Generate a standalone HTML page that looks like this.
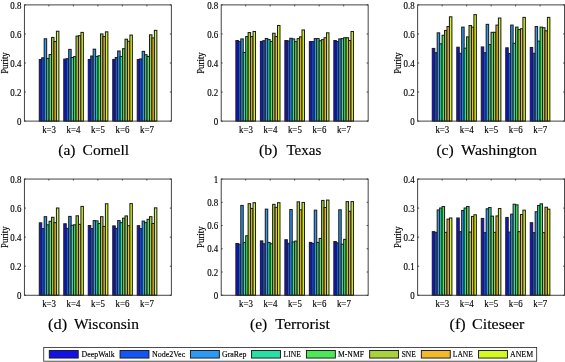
<!DOCTYPE html><html><head><meta charset="utf-8"><title>Purity</title><style>html,body{margin:0;padding:0;background:#fff}svg{display:block}text{font-family:"Liberation Serif","Times New Roman",serif;fill:#000;stroke:#000;stroke-width:0.15px}</style></head><body>
<svg width="565" height="362" viewBox="0 0 565 362">
<rect width="565" height="362" fill="#fff"/>
<g>
<g>
<rect x="39.3" y="59.51" width="2.45" height="61.59" fill="#1212e8" stroke="#1e1e1e" stroke-width="1.05"/>
<rect x="41.74" y="57.81" width="2.45" height="63.29" fill="#1455f5" stroke="#1e1e1e" stroke-width="1.05"/>
<rect x="44.19" y="38.79" width="2.45" height="82.31" fill="#2a9af5" stroke="#1e1e1e" stroke-width="1.05"/>
<rect x="46.64" y="58.42" width="2.45" height="62.68" fill="#28e0a5" stroke="#1e1e1e" stroke-width="1.05"/>
<rect x="49.09" y="54.58" width="2.45" height="66.52" fill="#4ce858" stroke="#1e1e1e" stroke-width="1.05"/>
<rect x="51.54" y="37.44" width="2.45" height="83.66" fill="#a8d23c" stroke="#1e1e1e" stroke-width="1.05"/>
<rect x="53.99" y="41.5" width="2.45" height="79.6" fill="#f4b928" stroke="#1e1e1e" stroke-width="1.05"/>
<rect x="56.44" y="31.26" width="2.45" height="89.84" fill="#d2fa1e" stroke="#1e1e1e" stroke-width="1.05"/>
<rect x="63.79" y="59.12" width="2.45" height="61.98" fill="#1212e8" stroke="#1e1e1e" stroke-width="1.05"/>
<rect x="66.24" y="58.69" width="2.45" height="62.41" fill="#1455f5" stroke="#1e1e1e" stroke-width="1.05"/>
<rect x="68.69" y="49.4" width="2.45" height="71.7" fill="#2a9af5" stroke="#1e1e1e" stroke-width="1.05"/>
<rect x="71.13" y="57.54" width="2.45" height="63.56" fill="#28e0a5" stroke="#1e1e1e" stroke-width="1.05"/>
<rect x="73.58" y="56.61" width="2.45" height="64.49" fill="#4ce858" stroke="#1e1e1e" stroke-width="1.05"/>
<rect x="76.03" y="36.13" width="2.45" height="84.97" fill="#a8d23c" stroke="#1e1e1e" stroke-width="1.05"/>
<rect x="78.48" y="35.69" width="2.45" height="85.41" fill="#f4b928" stroke="#1e1e1e" stroke-width="1.05"/>
<rect x="80.93" y="32.42" width="2.45" height="88.68" fill="#d2fa1e" stroke="#1e1e1e" stroke-width="1.05"/>
<rect x="88.28" y="59.51" width="2.45" height="61.59" fill="#1212e8" stroke="#1e1e1e" stroke-width="1.05"/>
<rect x="90.73" y="56.03" width="2.45" height="65.07" fill="#1455f5" stroke="#1e1e1e" stroke-width="1.05"/>
<rect x="93.18" y="49.2" width="2.45" height="71.9" fill="#2a9af5" stroke="#1e1e1e" stroke-width="1.05"/>
<rect x="95.63" y="56.46" width="2.45" height="64.64" fill="#28e0a5" stroke="#1e1e1e" stroke-width="1.05"/>
<rect x="98.08" y="55.74" width="2.45" height="65.36" fill="#4ce858" stroke="#1e1e1e" stroke-width="1.05"/>
<rect x="100.52" y="33.95" width="2.45" height="87.15" fill="#a8d23c" stroke="#1e1e1e" stroke-width="1.05"/>
<rect x="102.97" y="36.56" width="2.45" height="84.54" fill="#f4b928" stroke="#1e1e1e" stroke-width="1.05"/>
<rect x="105.42" y="31.84" width="2.45" height="89.26" fill="#d2fa1e" stroke="#1e1e1e" stroke-width="1.05"/>
<rect x="112.77" y="59.51" width="2.45" height="61.59" fill="#1212e8" stroke="#1e1e1e" stroke-width="1.05"/>
<rect x="115.22" y="57.54" width="2.45" height="63.56" fill="#1455f5" stroke="#1e1e1e" stroke-width="1.05"/>
<rect x="117.67" y="50.99" width="2.45" height="70.11" fill="#2a9af5" stroke="#1e1e1e" stroke-width="1.05"/>
<rect x="120.12" y="56.46" width="2.45" height="64.64" fill="#28e0a5" stroke="#1e1e1e" stroke-width="1.05"/>
<rect x="122.57" y="48.69" width="2.45" height="72.41" fill="#4ce858" stroke="#1e1e1e" stroke-width="1.05"/>
<rect x="125.02" y="39.22" width="2.45" height="81.88" fill="#a8d23c" stroke="#1e1e1e" stroke-width="1.05"/>
<rect x="127.46" y="41.26" width="2.45" height="79.84" fill="#f4b928" stroke="#1e1e1e" stroke-width="1.05"/>
<rect x="129.91" y="35.07" width="2.45" height="86.03" fill="#d2fa1e" stroke="#1e1e1e" stroke-width="1.05"/>
<rect x="137.26" y="59.51" width="2.45" height="61.59" fill="#1212e8" stroke="#1e1e1e" stroke-width="1.05"/>
<rect x="139.71" y="58.93" width="2.45" height="62.17" fill="#1455f5" stroke="#1e1e1e" stroke-width="1.05"/>
<rect x="142.16" y="51.38" width="2.45" height="69.72" fill="#2a9af5" stroke="#1e1e1e" stroke-width="1.05"/>
<rect x="144.61" y="54.72" width="2.45" height="66.38" fill="#28e0a5" stroke="#1e1e1e" stroke-width="1.05"/>
<rect x="147.06" y="56.46" width="2.45" height="64.64" fill="#4ce858" stroke="#1e1e1e" stroke-width="1.05"/>
<rect x="149.51" y="34.82" width="2.45" height="86.28" fill="#a8d23c" stroke="#1e1e1e" stroke-width="1.05"/>
<rect x="151.96" y="37.92" width="2.45" height="83.18" fill="#f4b928" stroke="#1e1e1e" stroke-width="1.05"/>
<rect x="154.41" y="30.38" width="2.45" height="90.72" fill="#d2fa1e" stroke="#1e1e1e" stroke-width="1.05"/>
</g>
<rect x="24.4" y="4.9" width="146.95" height="116.2" fill="none" stroke="#2e2e2e" stroke-width="0.9"/>
<path d="M48.89 121.1v-1.5M48.89 4.9v1.5M73.38 121.1v-1.5M73.38 4.9v1.5M97.88 121.1v-1.5M97.88 4.9v1.5M122.37 121.1v-1.5M122.37 4.9v1.5M146.86 121.1v-1.5M146.86 4.9v1.5M24.4 121.1h1.5M171.35 121.1h-1.5M24.4 92.05h1.5M171.35 92.05h-1.5M24.4 63h1.5M171.35 63h-1.5M24.4 33.95h1.5M171.35 33.95h-1.5M24.4 4.9h1.5M171.35 4.9h-1.5" stroke="#222" stroke-width="0.8" fill="none"/>
<text transform="translate(21.5 124.7) scale(0.91 1)" font-size="9.8" text-anchor="end">0</text>
<text transform="translate(21.5 95.65) scale(0.91 1)" font-size="9.8" text-anchor="end">0.2</text>
<text transform="translate(21.5 66.6) scale(0.91 1)" font-size="9.8" text-anchor="end">0.4</text>
<text transform="translate(21.5 37.55) scale(0.91 1)" font-size="9.8" text-anchor="end">0.6</text>
<text transform="translate(21.5 8.5) scale(0.91 1)" font-size="9.8" text-anchor="end">0.8</text>
<text transform="translate(49.09 132.8) scale(0.91 1)" font-size="9.8" text-anchor="middle">k=3</text>
<text transform="translate(73.58 132.8) scale(0.91 1)" font-size="9.8" text-anchor="middle">k=4</text>
<text transform="translate(98.08 132.8) scale(0.91 1)" font-size="9.8" text-anchor="middle">k=5</text>
<text transform="translate(122.57 132.8) scale(0.91 1)" font-size="9.8" text-anchor="middle">k=6</text>
<text transform="translate(147.06 132.8) scale(0.91 1)" font-size="9.8" text-anchor="middle">k=7</text>
<text transform="translate(7.5 63) rotate(-90) scale(0.91 1)" font-size="9.7" text-anchor="middle">Purity</text>
<text y="154.5" font-size="14.5"><tspan x="58.3" textLength="17.2" lengthAdjust="spacingAndGlyphs">(a)</tspan> <tspan x="82.6" textLength="46.5" lengthAdjust="spacingAndGlyphs">Cornell</tspan></text>
</g>
<g>
<g>
<rect x="235.89" y="40.53" width="2.45" height="80.57" fill="#1212e8" stroke="#1e1e1e" stroke-width="1.05"/>
<rect x="238.34" y="41.42" width="2.45" height="79.68" fill="#1455f5" stroke="#1e1e1e" stroke-width="1.05"/>
<rect x="240.79" y="38.93" width="2.45" height="82.17" fill="#2a9af5" stroke="#1e1e1e" stroke-width="1.05"/>
<rect x="243.24" y="52.45" width="2.45" height="68.65" fill="#28e0a5" stroke="#1e1e1e" stroke-width="1.05"/>
<rect x="245.69" y="36.56" width="2.45" height="84.54" fill="#4ce858" stroke="#1e1e1e" stroke-width="1.05"/>
<rect x="248.14" y="32.56" width="2.45" height="88.54" fill="#a8d23c" stroke="#1e1e1e" stroke-width="1.05"/>
<rect x="250.59" y="36.56" width="2.45" height="84.54" fill="#f4b928" stroke="#1e1e1e" stroke-width="1.05"/>
<rect x="253.04" y="31.48" width="2.45" height="89.62" fill="#d2fa1e" stroke="#1e1e1e" stroke-width="1.05"/>
<rect x="260.39" y="41.42" width="2.45" height="79.68" fill="#1212e8" stroke="#1e1e1e" stroke-width="1.05"/>
<rect x="262.84" y="40.7" width="2.45" height="80.4" fill="#1455f5" stroke="#1e1e1e" stroke-width="1.05"/>
<rect x="265.28" y="38.48" width="2.45" height="82.62" fill="#2a9af5" stroke="#1e1e1e" stroke-width="1.05"/>
<rect x="267.73" y="39.61" width="2.45" height="81.49" fill="#28e0a5" stroke="#1e1e1e" stroke-width="1.05"/>
<rect x="270.18" y="41.42" width="2.45" height="79.68" fill="#4ce858" stroke="#1e1e1e" stroke-width="1.05"/>
<rect x="272.63" y="33.27" width="2.45" height="87.83" fill="#a8d23c" stroke="#1e1e1e" stroke-width="1.05"/>
<rect x="275.08" y="36.56" width="2.45" height="84.54" fill="#f4b928" stroke="#1e1e1e" stroke-width="1.05"/>
<rect x="277.53" y="25.48" width="2.45" height="95.62" fill="#d2fa1e" stroke="#1e1e1e" stroke-width="1.05"/>
<rect x="284.88" y="40.53" width="2.45" height="80.57" fill="#1212e8" stroke="#1e1e1e" stroke-width="1.05"/>
<rect x="287.33" y="40.92" width="2.45" height="80.18" fill="#1455f5" stroke="#1e1e1e" stroke-width="1.05"/>
<rect x="289.78" y="38.31" width="2.45" height="82.79" fill="#2a9af5" stroke="#1e1e1e" stroke-width="1.05"/>
<rect x="292.23" y="38.93" width="2.45" height="82.17" fill="#28e0a5" stroke="#1e1e1e" stroke-width="1.05"/>
<rect x="294.67" y="41.59" width="2.45" height="79.51" fill="#4ce858" stroke="#1e1e1e" stroke-width="1.05"/>
<rect x="297.12" y="38.6" width="2.45" height="82.5" fill="#a8d23c" stroke="#1e1e1e" stroke-width="1.05"/>
<rect x="299.57" y="36.86" width="2.45" height="84.24" fill="#f4b928" stroke="#1e1e1e" stroke-width="1.05"/>
<rect x="302.02" y="29.94" width="2.45" height="91.16" fill="#d2fa1e" stroke="#1e1e1e" stroke-width="1.05"/>
<rect x="309.37" y="41.59" width="2.45" height="79.51" fill="#1212e8" stroke="#1e1e1e" stroke-width="1.05"/>
<rect x="311.82" y="41.59" width="2.45" height="79.51" fill="#1455f5" stroke="#1e1e1e" stroke-width="1.05"/>
<rect x="314.27" y="38.6" width="2.45" height="82.5" fill="#2a9af5" stroke="#1e1e1e" stroke-width="1.05"/>
<rect x="316.72" y="38.6" width="2.45" height="82.5" fill="#28e0a5" stroke="#1e1e1e" stroke-width="1.05"/>
<rect x="319.17" y="40.7" width="2.45" height="80.4" fill="#4ce858" stroke="#1e1e1e" stroke-width="1.05"/>
<rect x="321.62" y="39.61" width="2.45" height="81.49" fill="#a8d23c" stroke="#1e1e1e" stroke-width="1.05"/>
<rect x="324.06" y="37.73" width="2.45" height="83.37" fill="#f4b928" stroke="#1e1e1e" stroke-width="1.05"/>
<rect x="326.51" y="32.79" width="2.45" height="88.31" fill="#d2fa1e" stroke="#1e1e1e" stroke-width="1.05"/>
<rect x="333.86" y="40.53" width="2.45" height="80.57" fill="#1212e8" stroke="#1e1e1e" stroke-width="1.05"/>
<rect x="336.31" y="41.59" width="2.45" height="79.51" fill="#1455f5" stroke="#1e1e1e" stroke-width="1.05"/>
<rect x="338.76" y="38.93" width="2.45" height="82.17" fill="#2a9af5" stroke="#1e1e1e" stroke-width="1.05"/>
<rect x="341.21" y="38.6" width="2.45" height="82.5" fill="#28e0a5" stroke="#1e1e1e" stroke-width="1.05"/>
<rect x="343.66" y="37.73" width="2.45" height="83.37" fill="#4ce858" stroke="#1e1e1e" stroke-width="1.05"/>
<rect x="346.11" y="37.73" width="2.45" height="83.37" fill="#a8d23c" stroke="#1e1e1e" stroke-width="1.05"/>
<rect x="348.56" y="40.53" width="2.45" height="80.57" fill="#f4b928" stroke="#1e1e1e" stroke-width="1.05"/>
<rect x="351.01" y="31.48" width="2.45" height="89.62" fill="#d2fa1e" stroke="#1e1e1e" stroke-width="1.05"/>
</g>
<rect x="221.2" y="4.9" width="146.95" height="116.2" fill="none" stroke="#2e2e2e" stroke-width="0.9"/>
<path d="M245.69 121.1v-1.5M245.69 4.9v1.5M270.18 121.1v-1.5M270.18 4.9v1.5M294.67 121.1v-1.5M294.67 4.9v1.5M319.17 121.1v-1.5M319.17 4.9v1.5M343.66 121.1v-1.5M343.66 4.9v1.5M221.2 121.1h1.5M368.15 121.1h-1.5M221.2 92.05h1.5M368.15 92.05h-1.5M221.2 63h1.5M368.15 63h-1.5M221.2 33.95h1.5M368.15 33.95h-1.5M221.2 4.9h1.5M368.15 4.9h-1.5" stroke="#222" stroke-width="0.8" fill="none"/>
<text transform="translate(218.3 124.7) scale(0.91 1)" font-size="9.8" text-anchor="end">0</text>
<text transform="translate(218.3 95.65) scale(0.91 1)" font-size="9.8" text-anchor="end">0.2</text>
<text transform="translate(218.3 66.6) scale(0.91 1)" font-size="9.8" text-anchor="end">0.4</text>
<text transform="translate(218.3 37.55) scale(0.91 1)" font-size="9.8" text-anchor="end">0.6</text>
<text transform="translate(218.3 8.5) scale(0.91 1)" font-size="9.8" text-anchor="end">0.8</text>
<text transform="translate(245.89 132.8) scale(0.91 1)" font-size="9.8" text-anchor="middle">k=3</text>
<text transform="translate(270.38 132.8) scale(0.91 1)" font-size="9.8" text-anchor="middle">k=4</text>
<text transform="translate(294.87 132.8) scale(0.91 1)" font-size="9.8" text-anchor="middle">k=5</text>
<text transform="translate(319.37 132.8) scale(0.91 1)" font-size="9.8" text-anchor="middle">k=6</text>
<text transform="translate(343.86 132.8) scale(0.91 1)" font-size="9.8" text-anchor="middle">k=7</text>
<text transform="translate(204.3 63) rotate(-90) scale(0.91 1)" font-size="9.7" text-anchor="middle">Purity</text>
<text y="154.5" font-size="14.5"><tspan x="259.1" textLength="18.4" lengthAdjust="spacingAndGlyphs">(b)</tspan> <tspan x="286.4" textLength="35" lengthAdjust="spacingAndGlyphs">Texas</tspan></text>
</g>
<g>
<g>
<rect x="432.29" y="48.43" width="2.45" height="72.67" fill="#1212e8" stroke="#1e1e1e" stroke-width="1.05"/>
<rect x="434.74" y="52.69" width="2.45" height="68.41" fill="#1455f5" stroke="#1e1e1e" stroke-width="1.05"/>
<rect x="437.19" y="32.85" width="2.45" height="88.25" fill="#2a9af5" stroke="#1e1e1e" stroke-width="1.05"/>
<rect x="439.64" y="43.83" width="2.45" height="77.27" fill="#28e0a5" stroke="#1e1e1e" stroke-width="1.05"/>
<rect x="442.09" y="35.29" width="2.45" height="85.81" fill="#4ce858" stroke="#1e1e1e" stroke-width="1.05"/>
<rect x="444.54" y="30.46" width="2.45" height="90.64" fill="#a8d23c" stroke="#1e1e1e" stroke-width="1.05"/>
<rect x="446.99" y="26.54" width="2.45" height="94.56" fill="#f4b928" stroke="#1e1e1e" stroke-width="1.05"/>
<rect x="449.44" y="16.81" width="2.45" height="104.29" fill="#d2fa1e" stroke="#1e1e1e" stroke-width="1.05"/>
<rect x="456.79" y="47.21" width="2.45" height="73.89" fill="#1212e8" stroke="#1e1e1e" stroke-width="1.05"/>
<rect x="459.24" y="53.28" width="2.45" height="67.82" fill="#1455f5" stroke="#1e1e1e" stroke-width="1.05"/>
<rect x="461.68" y="27.12" width="2.45" height="93.98" fill="#2a9af5" stroke="#1e1e1e" stroke-width="1.05"/>
<rect x="464.13" y="48.18" width="2.45" height="72.92" fill="#28e0a5" stroke="#1e1e1e" stroke-width="1.05"/>
<rect x="466.58" y="36.86" width="2.45" height="84.24" fill="#4ce858" stroke="#1e1e1e" stroke-width="1.05"/>
<rect x="469.03" y="25.53" width="2.45" height="95.57" fill="#a8d23c" stroke="#1e1e1e" stroke-width="1.05"/>
<rect x="471.48" y="27.12" width="2.45" height="93.98" fill="#f4b928" stroke="#1e1e1e" stroke-width="1.05"/>
<rect x="473.93" y="14.63" width="2.45" height="106.47" fill="#d2fa1e" stroke="#1e1e1e" stroke-width="1.05"/>
<rect x="481.28" y="46.96" width="2.45" height="74.14" fill="#1212e8" stroke="#1e1e1e" stroke-width="1.05"/>
<rect x="483.73" y="52.69" width="2.45" height="68.41" fill="#1455f5" stroke="#1e1e1e" stroke-width="1.05"/>
<rect x="486.18" y="24.36" width="2.45" height="96.74" fill="#2a9af5" stroke="#1e1e1e" stroke-width="1.05"/>
<rect x="488.63" y="44.55" width="2.45" height="76.55" fill="#28e0a5" stroke="#1e1e1e" stroke-width="1.05"/>
<rect x="491.07" y="32.35" width="2.45" height="88.75" fill="#4ce858" stroke="#1e1e1e" stroke-width="1.05"/>
<rect x="493.52" y="32.35" width="2.45" height="88.75" fill="#a8d23c" stroke="#1e1e1e" stroke-width="1.05"/>
<rect x="495.97" y="25.09" width="2.45" height="96.01" fill="#f4b928" stroke="#1e1e1e" stroke-width="1.05"/>
<rect x="498.42" y="18.03" width="2.45" height="103.07" fill="#d2fa1e" stroke="#1e1e1e" stroke-width="1.05"/>
<rect x="505.77" y="47.82" width="2.45" height="73.28" fill="#1212e8" stroke="#1e1e1e" stroke-width="1.05"/>
<rect x="508.22" y="53.56" width="2.45" height="67.54" fill="#1455f5" stroke="#1e1e1e" stroke-width="1.05"/>
<rect x="510.67" y="25.09" width="2.45" height="96.01" fill="#2a9af5" stroke="#1e1e1e" stroke-width="1.05"/>
<rect x="513.12" y="43.32" width="2.45" height="77.78" fill="#28e0a5" stroke="#1e1e1e" stroke-width="1.05"/>
<rect x="515.57" y="27.12" width="2.45" height="93.98" fill="#4ce858" stroke="#1e1e1e" stroke-width="1.05"/>
<rect x="518.02" y="29.59" width="2.45" height="91.51" fill="#a8d23c" stroke="#1e1e1e" stroke-width="1.05"/>
<rect x="520.47" y="28.72" width="2.45" height="92.38" fill="#f4b928" stroke="#1e1e1e" stroke-width="1.05"/>
<rect x="522.91" y="17.39" width="2.45" height="103.71" fill="#d2fa1e" stroke="#1e1e1e" stroke-width="1.05"/>
<rect x="530.26" y="47.46" width="2.45" height="73.64" fill="#1212e8" stroke="#1e1e1e" stroke-width="1.05"/>
<rect x="532.71" y="53.28" width="2.45" height="67.82" fill="#1455f5" stroke="#1e1e1e" stroke-width="1.05"/>
<rect x="535.16" y="26.54" width="2.45" height="94.56" fill="#2a9af5" stroke="#1e1e1e" stroke-width="1.05"/>
<rect x="537.61" y="41.13" width="2.45" height="79.97" fill="#28e0a5" stroke="#1e1e1e" stroke-width="1.05"/>
<rect x="540.06" y="27.12" width="2.45" height="93.98" fill="#4ce858" stroke="#1e1e1e" stroke-width="1.05"/>
<rect x="542.51" y="27.7" width="2.45" height="93.4" fill="#a8d23c" stroke="#1e1e1e" stroke-width="1.05"/>
<rect x="544.96" y="30.8" width="2.45" height="90.3" fill="#f4b928" stroke="#1e1e1e" stroke-width="1.05"/>
<rect x="547.41" y="17.39" width="2.45" height="103.71" fill="#d2fa1e" stroke="#1e1e1e" stroke-width="1.05"/>
</g>
<rect x="417.65" y="4.9" width="146.95" height="116.2" fill="none" stroke="#2e2e2e" stroke-width="0.9"/>
<path d="M442.14 121.1v-1.5M442.14 4.9v1.5M466.63 121.1v-1.5M466.63 4.9v1.5M491.12 121.1v-1.5M491.12 4.9v1.5M515.62 121.1v-1.5M515.62 4.9v1.5M540.11 121.1v-1.5M540.11 4.9v1.5M417.65 121.1h1.5M564.6 121.1h-1.5M417.65 92.05h1.5M564.6 92.05h-1.5M417.65 63h1.5M564.6 63h-1.5M417.65 33.95h1.5M564.6 33.95h-1.5M417.65 4.9h1.5M564.6 4.9h-1.5" stroke="#222" stroke-width="0.8" fill="none"/>
<text transform="translate(414.75 124.7) scale(0.91 1)" font-size="9.8" text-anchor="end">0</text>
<text transform="translate(414.75 95.65) scale(0.91 1)" font-size="9.8" text-anchor="end">0.2</text>
<text transform="translate(414.75 66.6) scale(0.91 1)" font-size="9.8" text-anchor="end">0.4</text>
<text transform="translate(414.75 37.55) scale(0.91 1)" font-size="9.8" text-anchor="end">0.6</text>
<text transform="translate(414.75 8.5) scale(0.91 1)" font-size="9.8" text-anchor="end">0.8</text>
<text transform="translate(442.34 132.8) scale(0.91 1)" font-size="9.8" text-anchor="middle">k=3</text>
<text transform="translate(466.83 132.8) scale(0.91 1)" font-size="9.8" text-anchor="middle">k=4</text>
<text transform="translate(491.32 132.8) scale(0.91 1)" font-size="9.8" text-anchor="middle">k=5</text>
<text transform="translate(515.82 132.8) scale(0.91 1)" font-size="9.8" text-anchor="middle">k=6</text>
<text transform="translate(540.31 132.8) scale(0.91 1)" font-size="9.8" text-anchor="middle">k=7</text>
<text transform="translate(400.75 63) rotate(-90) scale(0.91 1)" font-size="9.7" text-anchor="middle">Purity</text>
<text y="154.5" font-size="14.5"><tspan x="436.4" textLength="17.3" lengthAdjust="spacingAndGlyphs">(c)</tspan> <tspan x="461.1" textLength="75.9" lengthAdjust="spacingAndGlyphs">Washington</tspan></text>
</g>
<g>
<g>
<rect x="39.3" y="222.87" width="2.45" height="72.38" fill="#1212e8" stroke="#1e1e1e" stroke-width="1.05"/>
<rect x="41.74" y="228.58" width="2.45" height="66.67" fill="#1455f5" stroke="#1e1e1e" stroke-width="1.05"/>
<rect x="44.19" y="216.67" width="2.45" height="78.58" fill="#2a9af5" stroke="#1e1e1e" stroke-width="1.05"/>
<rect x="46.64" y="224.83" width="2.45" height="70.42" fill="#28e0a5" stroke="#1e1e1e" stroke-width="1.05"/>
<rect x="49.09" y="221.29" width="2.45" height="73.96" fill="#4ce858" stroke="#1e1e1e" stroke-width="1.05"/>
<rect x="51.54" y="217.31" width="2.45" height="77.94" fill="#a8d23c" stroke="#1e1e1e" stroke-width="1.05"/>
<rect x="53.99" y="222.62" width="2.45" height="72.62" fill="#f4b928" stroke="#1e1e1e" stroke-width="1.05"/>
<rect x="56.44" y="208.01" width="2.45" height="87.24" fill="#d2fa1e" stroke="#1e1e1e" stroke-width="1.05"/>
<rect x="63.79" y="223.79" width="2.45" height="71.46" fill="#1212e8" stroke="#1e1e1e" stroke-width="1.05"/>
<rect x="66.24" y="228.38" width="2.45" height="66.87" fill="#1455f5" stroke="#1e1e1e" stroke-width="1.05"/>
<rect x="68.69" y="216.42" width="2.45" height="78.83" fill="#2a9af5" stroke="#1e1e1e" stroke-width="1.05"/>
<rect x="71.13" y="225.27" width="2.45" height="69.98" fill="#28e0a5" stroke="#1e1e1e" stroke-width="1.05"/>
<rect x="73.58" y="224.83" width="2.45" height="70.42" fill="#4ce858" stroke="#1e1e1e" stroke-width="1.05"/>
<rect x="76.03" y="215.8" width="2.45" height="79.45" fill="#a8d23c" stroke="#1e1e1e" stroke-width="1.05"/>
<rect x="78.48" y="224.37" width="2.45" height="70.88" fill="#f4b928" stroke="#1e1e1e" stroke-width="1.05"/>
<rect x="80.93" y="206.42" width="2.45" height="88.83" fill="#d2fa1e" stroke="#1e1e1e" stroke-width="1.05"/>
<rect x="88.28" y="225.53" width="2.45" height="69.72" fill="#1212e8" stroke="#1e1e1e" stroke-width="1.05"/>
<rect x="90.73" y="228.58" width="2.45" height="66.67" fill="#1455f5" stroke="#1e1e1e" stroke-width="1.05"/>
<rect x="93.18" y="220.59" width="2.45" height="74.66" fill="#2a9af5" stroke="#1e1e1e" stroke-width="1.05"/>
<rect x="95.63" y="220.88" width="2.45" height="74.37" fill="#28e0a5" stroke="#1e1e1e" stroke-width="1.05"/>
<rect x="98.08" y="223.5" width="2.45" height="71.75" fill="#4ce858" stroke="#1e1e1e" stroke-width="1.05"/>
<rect x="100.52" y="216.67" width="2.45" height="78.58" fill="#a8d23c" stroke="#1e1e1e" stroke-width="1.05"/>
<rect x="102.97" y="226.42" width="2.45" height="68.83" fill="#f4b928" stroke="#1e1e1e" stroke-width="1.05"/>
<rect x="105.42" y="203.74" width="2.45" height="91.51" fill="#d2fa1e" stroke="#1e1e1e" stroke-width="1.05"/>
<rect x="112.77" y="225.89" width="2.45" height="69.36" fill="#1212e8" stroke="#1e1e1e" stroke-width="1.05"/>
<rect x="115.22" y="228.38" width="2.45" height="66.87" fill="#1455f5" stroke="#1e1e1e" stroke-width="1.05"/>
<rect x="117.67" y="220.59" width="2.45" height="74.66" fill="#2a9af5" stroke="#1e1e1e" stroke-width="1.05"/>
<rect x="120.12" y="222.62" width="2.45" height="72.62" fill="#28e0a5" stroke="#1e1e1e" stroke-width="1.05"/>
<rect x="122.57" y="218.18" width="2.45" height="77.07" fill="#4ce858" stroke="#1e1e1e" stroke-width="1.05"/>
<rect x="125.02" y="215.94" width="2.45" height="79.31" fill="#a8d23c" stroke="#1e1e1e" stroke-width="1.05"/>
<rect x="127.46" y="225.72" width="2.45" height="69.53" fill="#f4b928" stroke="#1e1e1e" stroke-width="1.05"/>
<rect x="129.91" y="203.6" width="2.45" height="91.65" fill="#d2fa1e" stroke="#1e1e1e" stroke-width="1.05"/>
<rect x="137.26" y="225.72" width="2.45" height="69.53" fill="#1212e8" stroke="#1e1e1e" stroke-width="1.05"/>
<rect x="139.71" y="228.58" width="2.45" height="66.67" fill="#1455f5" stroke="#1e1e1e" stroke-width="1.05"/>
<rect x="142.16" y="221.11" width="2.45" height="74.14" fill="#2a9af5" stroke="#1e1e1e" stroke-width="1.05"/>
<rect x="144.61" y="222.62" width="2.45" height="72.62" fill="#28e0a5" stroke="#1e1e1e" stroke-width="1.05"/>
<rect x="147.06" y="219.34" width="2.45" height="75.91" fill="#4ce858" stroke="#1e1e1e" stroke-width="1.05"/>
<rect x="149.51" y="216.67" width="2.45" height="78.58" fill="#a8d23c" stroke="#1e1e1e" stroke-width="1.05"/>
<rect x="151.96" y="223.5" width="2.45" height="71.75" fill="#f4b928" stroke="#1e1e1e" stroke-width="1.05"/>
<rect x="154.41" y="207.84" width="2.45" height="87.41" fill="#d2fa1e" stroke="#1e1e1e" stroke-width="1.05"/>
</g>
<rect x="24.4" y="179.05" width="146.95" height="116.2" fill="none" stroke="#2e2e2e" stroke-width="0.9"/>
<path d="M48.89 295.25v-1.5M48.89 179.05v1.5M73.38 295.25v-1.5M73.38 179.05v1.5M97.88 295.25v-1.5M97.88 179.05v1.5M122.37 295.25v-1.5M122.37 179.05v1.5M146.86 295.25v-1.5M146.86 179.05v1.5M24.4 295.25h1.5M171.35 295.25h-1.5M24.4 266.2h1.5M171.35 266.2h-1.5M24.4 237.15h1.5M171.35 237.15h-1.5M24.4 208.1h1.5M171.35 208.1h-1.5M24.4 179.05h1.5M171.35 179.05h-1.5" stroke="#222" stroke-width="0.8" fill="none"/>
<text transform="translate(21.5 298.85) scale(0.91 1)" font-size="9.8" text-anchor="end">0</text>
<text transform="translate(21.5 269.8) scale(0.91 1)" font-size="9.8" text-anchor="end">0.2</text>
<text transform="translate(21.5 240.75) scale(0.91 1)" font-size="9.8" text-anchor="end">0.4</text>
<text transform="translate(21.5 211.7) scale(0.91 1)" font-size="9.8" text-anchor="end">0.6</text>
<text transform="translate(21.5 182.65) scale(0.91 1)" font-size="9.8" text-anchor="end">0.8</text>
<text transform="translate(49.09 306.95) scale(0.91 1)" font-size="9.8" text-anchor="middle">k=3</text>
<text transform="translate(73.58 306.95) scale(0.91 1)" font-size="9.8" text-anchor="middle">k=4</text>
<text transform="translate(98.08 306.95) scale(0.91 1)" font-size="9.8" text-anchor="middle">k=5</text>
<text transform="translate(122.57 306.95) scale(0.91 1)" font-size="9.8" text-anchor="middle">k=6</text>
<text transform="translate(147.06 306.95) scale(0.91 1)" font-size="9.8" text-anchor="middle">k=7</text>
<text transform="translate(7.5 237.15) rotate(-90) scale(0.91 1)" font-size="9.7" text-anchor="middle">Purity</text>
<text y="328.65" font-size="14.5"><tspan x="48.05" textLength="19.1" lengthAdjust="spacingAndGlyphs">(d)</tspan> <tspan x="74.05" textLength="64.85" lengthAdjust="spacingAndGlyphs">Wisconsin</tspan></text>
</g>
<g>
<g>
<rect x="235.89" y="243.48" width="2.45" height="51.77" fill="#1212e8" stroke="#1e1e1e" stroke-width="1.05"/>
<rect x="238.34" y="244.18" width="2.45" height="51.07" fill="#1455f5" stroke="#1e1e1e" stroke-width="1.05"/>
<rect x="240.79" y="205.43" width="2.45" height="89.82" fill="#2a9af5" stroke="#1e1e1e" stroke-width="1.05"/>
<rect x="243.24" y="242.43" width="2.45" height="52.82" fill="#28e0a5" stroke="#1e1e1e" stroke-width="1.05"/>
<rect x="245.69" y="235.76" width="2.45" height="59.49" fill="#4ce858" stroke="#1e1e1e" stroke-width="1.05"/>
<rect x="248.14" y="203.68" width="2.45" height="91.57" fill="#a8d23c" stroke="#1e1e1e" stroke-width="1.05"/>
<rect x="250.59" y="208.45" width="2.45" height="86.8" fill="#f4b928" stroke="#1e1e1e" stroke-width="1.05"/>
<rect x="253.04" y="202.69" width="2.45" height="92.56" fill="#d2fa1e" stroke="#1e1e1e" stroke-width="1.05"/>
<rect x="260.39" y="240.91" width="2.45" height="54.34" fill="#1212e8" stroke="#1e1e1e" stroke-width="1.05"/>
<rect x="262.84" y="243.77" width="2.45" height="51.48" fill="#1455f5" stroke="#1e1e1e" stroke-width="1.05"/>
<rect x="265.28" y="209.15" width="2.45" height="86.1" fill="#2a9af5" stroke="#1e1e1e" stroke-width="1.05"/>
<rect x="267.73" y="242.43" width="2.45" height="52.82" fill="#28e0a5" stroke="#1e1e1e" stroke-width="1.05"/>
<rect x="270.18" y="243.77" width="2.45" height="51.48" fill="#4ce858" stroke="#1e1e1e" stroke-width="1.05"/>
<rect x="272.63" y="204.38" width="2.45" height="90.87" fill="#a8d23c" stroke="#1e1e1e" stroke-width="1.05"/>
<rect x="275.08" y="207.4" width="2.45" height="87.85" fill="#f4b928" stroke="#1e1e1e" stroke-width="1.05"/>
<rect x="277.53" y="202.69" width="2.45" height="92.56" fill="#d2fa1e" stroke="#1e1e1e" stroke-width="1.05"/>
<rect x="284.88" y="239.75" width="2.45" height="55.5" fill="#1212e8" stroke="#1e1e1e" stroke-width="1.05"/>
<rect x="287.33" y="243.31" width="2.45" height="51.94" fill="#1455f5" stroke="#1e1e1e" stroke-width="1.05"/>
<rect x="289.78" y="209.54" width="2.45" height="85.71" fill="#2a9af5" stroke="#1e1e1e" stroke-width="1.05"/>
<rect x="292.23" y="241.97" width="2.45" height="53.28" fill="#28e0a5" stroke="#1e1e1e" stroke-width="1.05"/>
<rect x="294.67" y="241.1" width="2.45" height="54.15" fill="#4ce858" stroke="#1e1e1e" stroke-width="1.05"/>
<rect x="297.12" y="201.83" width="2.45" height="93.42" fill="#a8d23c" stroke="#1e1e1e" stroke-width="1.05"/>
<rect x="299.57" y="209.8" width="2.45" height="85.45" fill="#f4b928" stroke="#1e1e1e" stroke-width="1.05"/>
<rect x="302.02" y="202.46" width="2.45" height="92.79" fill="#d2fa1e" stroke="#1e1e1e" stroke-width="1.05"/>
<rect x="309.37" y="242.43" width="2.45" height="52.82" fill="#1212e8" stroke="#1e1e1e" stroke-width="1.05"/>
<rect x="311.82" y="243.48" width="2.45" height="51.77" fill="#1455f5" stroke="#1e1e1e" stroke-width="1.05"/>
<rect x="314.27" y="210.19" width="2.45" height="85.06" fill="#2a9af5" stroke="#1e1e1e" stroke-width="1.05"/>
<rect x="316.72" y="242.43" width="2.45" height="52.82" fill="#28e0a5" stroke="#1e1e1e" stroke-width="1.05"/>
<rect x="319.17" y="238.43" width="2.45" height="56.82" fill="#4ce858" stroke="#1e1e1e" stroke-width="1.05"/>
<rect x="321.62" y="200.43" width="2.45" height="94.82" fill="#a8d23c" stroke="#1e1e1e" stroke-width="1.05"/>
<rect x="324.06" y="207.52" width="2.45" height="87.73" fill="#f4b928" stroke="#1e1e1e" stroke-width="1.05"/>
<rect x="326.51" y="200.08" width="2.45" height="95.17" fill="#d2fa1e" stroke="#1e1e1e" stroke-width="1.05"/>
<rect x="333.86" y="241.57" width="2.45" height="53.68" fill="#1212e8" stroke="#1e1e1e" stroke-width="1.05"/>
<rect x="336.31" y="242.84" width="2.45" height="52.41" fill="#1455f5" stroke="#1e1e1e" stroke-width="1.05"/>
<rect x="338.76" y="209.8" width="2.45" height="85.45" fill="#2a9af5" stroke="#1e1e1e" stroke-width="1.05"/>
<rect x="341.21" y="244.18" width="2.45" height="51.07" fill="#28e0a5" stroke="#1e1e1e" stroke-width="1.05"/>
<rect x="343.66" y="239.36" width="2.45" height="55.89" fill="#4ce858" stroke="#1e1e1e" stroke-width="1.05"/>
<rect x="346.11" y="201.59" width="2.45" height="93.66" fill="#a8d23c" stroke="#1e1e1e" stroke-width="1.05"/>
<rect x="348.56" y="211.31" width="2.45" height="83.94" fill="#f4b928" stroke="#1e1e1e" stroke-width="1.05"/>
<rect x="351.01" y="201.59" width="2.45" height="93.66" fill="#d2fa1e" stroke="#1e1e1e" stroke-width="1.05"/>
</g>
<rect x="221.2" y="179.05" width="146.95" height="116.2" fill="none" stroke="#2e2e2e" stroke-width="0.9"/>
<path d="M245.69 295.25v-1.5M245.69 179.05v1.5M270.18 295.25v-1.5M270.18 179.05v1.5M294.67 295.25v-1.5M294.67 179.05v1.5M319.17 295.25v-1.5M319.17 179.05v1.5M343.66 295.25v-1.5M343.66 179.05v1.5M221.2 295.25h1.5M368.15 295.25h-1.5M221.2 272.01h1.5M368.15 272.01h-1.5M221.2 248.77h1.5M368.15 248.77h-1.5M221.2 225.53h1.5M368.15 225.53h-1.5M221.2 202.29h1.5M368.15 202.29h-1.5M221.2 179.05h1.5M368.15 179.05h-1.5" stroke="#222" stroke-width="0.8" fill="none"/>
<text transform="translate(218.3 298.85) scale(0.91 1)" font-size="9.8" text-anchor="end">0</text>
<text transform="translate(218.3 275.61) scale(0.91 1)" font-size="9.8" text-anchor="end">0.2</text>
<text transform="translate(218.3 252.37) scale(0.91 1)" font-size="9.8" text-anchor="end">0.4</text>
<text transform="translate(218.3 229.13) scale(0.91 1)" font-size="9.8" text-anchor="end">0.6</text>
<text transform="translate(218.3 205.89) scale(0.91 1)" font-size="9.8" text-anchor="end">0.8</text>
<text transform="translate(218.3 182.65) scale(0.91 1)" font-size="9.8" text-anchor="end">1</text>
<text transform="translate(245.89 306.95) scale(0.91 1)" font-size="9.8" text-anchor="middle">k=3</text>
<text transform="translate(270.38 306.95) scale(0.91 1)" font-size="9.8" text-anchor="middle">k=4</text>
<text transform="translate(294.87 306.95) scale(0.91 1)" font-size="9.8" text-anchor="middle">k=5</text>
<text transform="translate(319.37 306.95) scale(0.91 1)" font-size="9.8" text-anchor="middle">k=6</text>
<text transform="translate(343.86 306.95) scale(0.91 1)" font-size="9.8" text-anchor="middle">k=7</text>
<text transform="translate(204.3 237.15) rotate(-90) scale(0.91 1)" font-size="9.7" text-anchor="middle">Purity</text>
<text y="328.65" font-size="14.5"><tspan x="250" textLength="17.2" lengthAdjust="spacingAndGlyphs">(e)</tspan> <tspan x="275.3" textLength="54.5" lengthAdjust="spacingAndGlyphs">Terrorist</tspan></text>
</g>
<g>
<g>
<rect x="432.29" y="231.66" width="2.45" height="63.59" fill="#1212e8" stroke="#1e1e1e" stroke-width="1.05"/>
<rect x="434.74" y="232.36" width="2.45" height="62.89" fill="#1455f5" stroke="#1e1e1e" stroke-width="1.05"/>
<rect x="437.19" y="209.99" width="2.45" height="85.26" fill="#2a9af5" stroke="#1e1e1e" stroke-width="1.05"/>
<rect x="439.64" y="208.01" width="2.45" height="87.24" fill="#28e0a5" stroke="#1e1e1e" stroke-width="1.05"/>
<rect x="442.09" y="206.5" width="2.45" height="88.75" fill="#4ce858" stroke="#1e1e1e" stroke-width="1.05"/>
<rect x="444.54" y="232.36" width="2.45" height="62.89" fill="#a8d23c" stroke="#1e1e1e" stroke-width="1.05"/>
<rect x="446.99" y="219.14" width="2.45" height="76.11" fill="#f4b928" stroke="#1e1e1e" stroke-width="1.05"/>
<rect x="449.44" y="217.98" width="2.45" height="77.27" fill="#d2fa1e" stroke="#1e1e1e" stroke-width="1.05"/>
<rect x="456.79" y="217.98" width="2.45" height="77.27" fill="#1212e8" stroke="#1e1e1e" stroke-width="1.05"/>
<rect x="459.24" y="231.66" width="2.45" height="63.59" fill="#1455f5" stroke="#1e1e1e" stroke-width="1.05"/>
<rect x="461.68" y="210.48" width="2.45" height="84.77" fill="#2a9af5" stroke="#1e1e1e" stroke-width="1.05"/>
<rect x="464.13" y="208.01" width="2.45" height="87.24" fill="#28e0a5" stroke="#1e1e1e" stroke-width="1.05"/>
<rect x="466.58" y="206.5" width="2.45" height="88.75" fill="#4ce858" stroke="#1e1e1e" stroke-width="1.05"/>
<rect x="469.03" y="232.07" width="2.45" height="63.18" fill="#a8d23c" stroke="#1e1e1e" stroke-width="1.05"/>
<rect x="471.48" y="216.47" width="2.45" height="78.78" fill="#f4b928" stroke="#1e1e1e" stroke-width="1.05"/>
<rect x="473.93" y="214.78" width="2.45" height="80.47" fill="#d2fa1e" stroke="#1e1e1e" stroke-width="1.05"/>
<rect x="481.28" y="218.44" width="2.45" height="76.81" fill="#1212e8" stroke="#1e1e1e" stroke-width="1.05"/>
<rect x="483.73" y="232.65" width="2.45" height="62.6" fill="#1455f5" stroke="#1e1e1e" stroke-width="1.05"/>
<rect x="486.18" y="208.8" width="2.45" height="86.45" fill="#2a9af5" stroke="#1e1e1e" stroke-width="1.05"/>
<rect x="488.63" y="207.52" width="2.45" height="87.73" fill="#28e0a5" stroke="#1e1e1e" stroke-width="1.05"/>
<rect x="491.07" y="216.15" width="2.45" height="79.1" fill="#4ce858" stroke="#1e1e1e" stroke-width="1.05"/>
<rect x="493.52" y="232.36" width="2.45" height="62.89" fill="#a8d23c" stroke="#1e1e1e" stroke-width="1.05"/>
<rect x="495.97" y="215.94" width="2.45" height="79.31" fill="#f4b928" stroke="#1e1e1e" stroke-width="1.05"/>
<rect x="498.42" y="208.51" width="2.45" height="86.74" fill="#d2fa1e" stroke="#1e1e1e" stroke-width="1.05"/>
<rect x="505.77" y="217.45" width="2.45" height="77.8" fill="#1212e8" stroke="#1e1e1e" stroke-width="1.05"/>
<rect x="508.22" y="232.07" width="2.45" height="63.18" fill="#1455f5" stroke="#1e1e1e" stroke-width="1.05"/>
<rect x="510.67" y="214.2" width="2.45" height="81.05" fill="#2a9af5" stroke="#1e1e1e" stroke-width="1.05"/>
<rect x="513.12" y="204.24" width="2.45" height="91.01" fill="#28e0a5" stroke="#1e1e1e" stroke-width="1.05"/>
<rect x="515.57" y="204.85" width="2.45" height="90.4" fill="#4ce858" stroke="#1e1e1e" stroke-width="1.05"/>
<rect x="518.02" y="231.66" width="2.45" height="63.59" fill="#a8d23c" stroke="#1e1e1e" stroke-width="1.05"/>
<rect x="520.47" y="214.49" width="2.45" height="80.76" fill="#f4b928" stroke="#1e1e1e" stroke-width="1.05"/>
<rect x="522.91" y="210.19" width="2.45" height="85.06" fill="#d2fa1e" stroke="#1e1e1e" stroke-width="1.05"/>
<rect x="530.26" y="222.71" width="2.45" height="72.54" fill="#1212e8" stroke="#1e1e1e" stroke-width="1.05"/>
<rect x="532.71" y="232.65" width="2.45" height="62.6" fill="#1455f5" stroke="#1e1e1e" stroke-width="1.05"/>
<rect x="535.16" y="211.76" width="2.45" height="83.49" fill="#2a9af5" stroke="#1e1e1e" stroke-width="1.05"/>
<rect x="537.61" y="205.51" width="2.45" height="89.74" fill="#28e0a5" stroke="#1e1e1e" stroke-width="1.05"/>
<rect x="540.06" y="203.83" width="2.45" height="91.42" fill="#4ce858" stroke="#1e1e1e" stroke-width="1.05"/>
<rect x="542.51" y="232.65" width="2.45" height="62.6" fill="#a8d23c" stroke="#1e1e1e" stroke-width="1.05"/>
<rect x="544.96" y="207.23" width="2.45" height="88.02" fill="#f4b928" stroke="#1e1e1e" stroke-width="1.05"/>
<rect x="547.41" y="209.17" width="2.45" height="86.08" fill="#d2fa1e" stroke="#1e1e1e" stroke-width="1.05"/>
</g>
<rect x="417.65" y="179.05" width="146.95" height="116.2" fill="none" stroke="#2e2e2e" stroke-width="0.9"/>
<path d="M442.14 295.25v-1.5M442.14 179.05v1.5M466.63 295.25v-1.5M466.63 179.05v1.5M491.12 295.25v-1.5M491.12 179.05v1.5M515.62 295.25v-1.5M515.62 179.05v1.5M540.11 295.25v-1.5M540.11 179.05v1.5M417.65 295.25h1.5M564.6 295.25h-1.5M417.65 266.2h1.5M564.6 266.2h-1.5M417.65 237.15h1.5M564.6 237.15h-1.5M417.65 208.1h1.5M564.6 208.1h-1.5M417.65 179.05h1.5M564.6 179.05h-1.5" stroke="#222" stroke-width="0.8" fill="none"/>
<text transform="translate(414.75 298.85) scale(0.91 1)" font-size="9.8" text-anchor="end">0</text>
<text transform="translate(414.75 269.8) scale(0.91 1)" font-size="9.8" text-anchor="end">0.1</text>
<text transform="translate(414.75 240.75) scale(0.91 1)" font-size="9.8" text-anchor="end">0.2</text>
<text transform="translate(414.75 211.7) scale(0.91 1)" font-size="9.8" text-anchor="end">0.3</text>
<text transform="translate(414.75 182.65) scale(0.91 1)" font-size="9.8" text-anchor="end">0.4</text>
<text transform="translate(442.34 306.95) scale(0.91 1)" font-size="9.8" text-anchor="middle">k=3</text>
<text transform="translate(466.83 306.95) scale(0.91 1)" font-size="9.8" text-anchor="middle">k=4</text>
<text transform="translate(491.32 306.95) scale(0.91 1)" font-size="9.8" text-anchor="middle">k=5</text>
<text transform="translate(515.82 306.95) scale(0.91 1)" font-size="9.8" text-anchor="middle">k=6</text>
<text transform="translate(540.31 306.95) scale(0.91 1)" font-size="9.8" text-anchor="middle">k=7</text>
<text transform="translate(400.75 237.15) rotate(-90) scale(0.91 1)" font-size="9.7" text-anchor="middle">Purity</text>
<text y="328.65" font-size="14.5"><tspan x="449.6" textLength="16.1" lengthAdjust="spacingAndGlyphs">(f)</tspan> <tspan x="472.1" textLength="52.2" lengthAdjust="spacingAndGlyphs">Citeseer</tspan></text>
</g>
<rect x="43.75" y="347.5" width="492.95000000000005" height="13.699999999999989" fill="#fff" stroke="#222" stroke-width="0.8"/>
<rect x="49.3" y="350.5" width="28.9" height="7.55" fill="#1212e8" stroke="#1a1a1a" stroke-width="0.95"/>
<text x="81.6" y="357.3" font-size="8.1" textLength="33" lengthAdjust="spacingAndGlyphs">DeepWalk</text>
<rect x="120.05" y="350.5" width="28.9" height="7.55" fill="#1455f5" stroke="#1a1a1a" stroke-width="0.95"/>
<text x="151.9" y="357.3" font-size="8.1" textLength="33.3" lengthAdjust="spacingAndGlyphs">Node2Vec</text>
<rect x="190.45" y="350.5" width="28.9" height="7.55" fill="#2a9af5" stroke="#1a1a1a" stroke-width="0.95"/>
<text x="222.1" y="357.3" font-size="8.1" textLength="24.3" lengthAdjust="spacingAndGlyphs">GraRep</text>
<rect x="251.55" y="350.5" width="28.9" height="7.55" fill="#28e0a5" stroke="#1a1a1a" stroke-width="0.95"/>
<text x="283.6" y="357.3" font-size="8.1" textLength="17.15" lengthAdjust="spacingAndGlyphs">LINE</text>
<rect x="306.45" y="350.5" width="28.9" height="7.55" fill="#4ce858" stroke="#1a1a1a" stroke-width="0.95"/>
<text x="338" y="357.3" font-size="8.1" textLength="26" lengthAdjust="spacingAndGlyphs">M-NMF</text>
<rect x="369.65" y="350.5" width="28.9" height="7.55" fill="#a8d23c" stroke="#1a1a1a" stroke-width="0.95"/>
<text x="401.7" y="357.3" font-size="8.1" textLength="14.1" lengthAdjust="spacingAndGlyphs">SNE</text>
<rect x="421.35" y="350.5" width="28.9" height="7.55" fill="#f4b928" stroke="#1a1a1a" stroke-width="0.95"/>
<text x="452.8" y="357.3" font-size="8.1" textLength="20" lengthAdjust="spacingAndGlyphs">LANE</text>
<rect x="478.55" y="350.5" width="28.9" height="7.55" fill="#d2fa1e" stroke="#1a1a1a" stroke-width="0.95"/>
<text x="510.1" y="357.3" font-size="8.1" textLength="23" lengthAdjust="spacingAndGlyphs">ANEM</text>
</svg></body></html>
